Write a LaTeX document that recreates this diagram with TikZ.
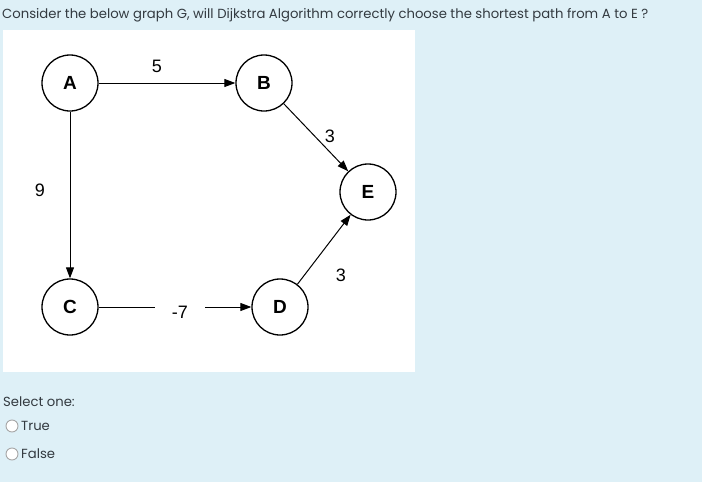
\documentclass[tikz,border=0pt]{standalone}
\usepackage{fontspec}
\setmainfont{Poppins}
\newfontfamily\arialf{Liberation Sans}
\usetikzlibrary{arrows.meta}
\definecolor{bg}{HTML}{DEF0F7}
\definecolor{txt}{HTML}{333A40}
\begin{document}
\begin{tikzpicture}[x=1pt,y=-1pt,
  vert/.style={circle,draw,line width=1.3pt,minimum size=56pt,inner sep=0pt,font=\arialf\bfseries\fontsize{19}{21}\selectfont},
  edge/.style={line width=1pt,-{Triangle[length=11pt,width=8pt]}},
  lbl/.style={font=\arialf\fontsize{18}{20}\selectfont},
  qtxt/.style={text=txt,font=\fontsize{13.2}{15}\selectfont},
  radio/.style={circle,draw=gray!70,fill=white,line width=0.9pt,minimum size=12pt,inner sep=0pt}]
\fill[bg] (0,0) rectangle (702,482);
\useasboundingbox (0,0) rectangle (702,482);
\fill[white] (3,30) rectangle (415,372);
\node[anchor=west,qtxt,inner sep=0pt] (q) at (2,15) {Consider the below graph G, will Dijkstra Algorithm correctly choose the shortest path from A to E ?};
\node[vert] (A) at (70,83) {A};
\node[vert] (B) at (264,83) {B};
\node[vert] (E) at (368,192) {E};
\node[vert] (C) at (70,307) {C};
\node[vert] (D) at (280,307) {D};
\draw[edge] (A) -- (B);
\draw[edge] (B) -- (E);
\draw[edge] (A) -- (C);
\draw[edge] (D) -- (E);
\node[lbl] (l7) at (180,312) {-7};
\draw[line width=1pt] (C.east) -- (155,307) coordinate (c1);
\coordinate (c2) at (205,307);
\draw[edge] (c2) -- (D.west);
\node[lbl] (l5) at (157,66) {5};
\node[lbl] (l3a) at (330,136) {3};
\node[lbl] (l9) at (40,190) {9};
\node[lbl] (l3b) at (341,275) {3};
\node[anchor=west,qtxt,inner sep=0pt] (s) at (3,402) {Select one:};
\node[radio] (r1) at (12,426) {};
\node[anchor=west,qtxt,inner sep=0pt] (t) at (21,426) {True};
\node[radio] (r2) at (12,454) {};
\node[anchor=west,qtxt,inner sep=0pt] (f) at (21,454) {False};
\end{tikzpicture}
\end{document}
